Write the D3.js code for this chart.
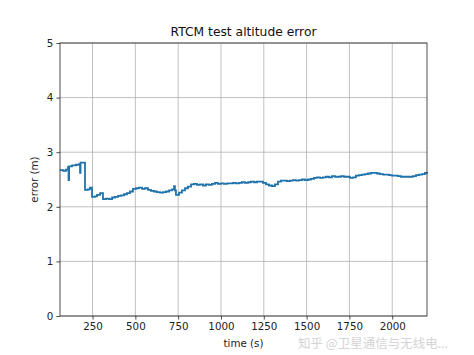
<!DOCTYPE html>
<html>
<head>
<meta charset="utf-8">
<script src="https://cdn.jsdelivr.net/npm/d3@7"></script>
<style>
  html, body { margin: 0; padding: 0; background: #fff; }
  svg { display: block; font-family: "DejaVu Sans", sans-serif; }
</style>
</head>
<body>
<svg id="chart" width="474" height="355"></svg>
<script>
const times = [60,78,95,107,110,113,130,153,171,177,180,200,206,223,235,247,264,276,294,311,329,346,364,381,399,416,434,451,469,486,504,521,539,556,574,591,609,626,644,662,679,697,714,726,731,737,755,772,790,807,825,842,860,877,895,912,930,947,965,982,1000,1017,1035,1052,1070,1087,1105,1122,1140,1158,1175,1193,1210,1228,1245,1263,1280,1298,1315,1333,1350,1368,1385,1403,1420,1438,1455,1473,1490,1508,1525,1543,1560,1578,1595,1613,1631,1648,1666,1683,1701,1718,1736,1753,1771,1788,1806,1823,1841,1858,1876,1893,1911,1928,1946,1963,1981,1998,2016,2034,2051,2069,2086,2104,2121,2139,2156,2174,2191,2203];
const errors = [2.67,2.66,2.68,2.73,2.49,2.74,2.76,2.77,2.78,2.62,2.81,2.81,2.31,2.32,2.35,2.18,2.19,2.22,2.25,2.14,2.15,2.14,2.17,2.18,2.20,2.21,2.23,2.25,2.28,2.33,2.34,2.35,2.33,2.34,2.31,2.29,2.28,2.27,2.26,2.27,2.28,2.30,2.32,2.38,2.30,2.22,2.26,2.30,2.34,2.37,2.41,2.42,2.40,2.41,2.39,2.41,2.40,2.42,2.44,2.42,2.43,2.42,2.43,2.43,2.44,2.43,2.44,2.45,2.44,2.45,2.46,2.45,2.46,2.46,2.44,2.41,2.39,2.38,2.41,2.46,2.48,2.48,2.47,2.48,2.49,2.48,2.49,2.50,2.49,2.50,2.51,2.53,2.54,2.53,2.54,2.55,2.54,2.56,2.55,2.55,2.56,2.55,2.55,2.53,2.54,2.57,2.58,2.59,2.60,2.61,2.62,2.62,2.61,2.60,2.59,2.59,2.58,2.57,2.57,2.56,2.55,2.55,2.55,2.55,2.56,2.58,2.59,2.60,2.62,2.61];
const xTicks = [250,500,750,1000,1250,1500,1750,2000];
const yTicks = [0,1,2,3,4,5];
const titleText = "RTCM test altitude error";
const xLabel = "time (s)";
const yLabel = "error (m)";
const watermark = "知乎 @卫星通信与无线电...";

const svg = d3.select("#chart");
const L = 60, R = 427, T = 43, B = 316;

const x = d3.scaleLinear().domain([60, 2203]).range([L, R]);
const y = d3.scaleLinear().domain([0, 5]).range([B, T]);

// grid
const grid = svg.append("g");
grid.selectAll("line.vx").data(xTicks).enter().append("line")
  .attr("x1", d => x(d)).attr("x2", d => x(d)).attr("y1", T).attr("y2", B)
  .attr("stroke", "#b0b0b0").attr("stroke-width", 0.8);
grid.selectAll("line.hy").data(yTicks).enter().append("line")
  .attr("x1", L).attr("x2", R).attr("y1", d => y(d)).attr("y2", d => y(d))
  .attr("stroke", "#b0b0b0").attr("stroke-width", 0.8);

// line
const data = times.map((t, i) => ({t, v: errors[i]}));
const line = d3.line().x(d => x(d.t)).y(d => y(d.v)).curve(d3.curveStepAfter);
svg.append("path").datum(data)
  .attr("d", line).attr("fill", "none")
  .attr("stroke", "#1f72ac").attr("stroke-width", 1.8)
  .attr("stroke-linejoin", "miter");

// axes
const xAxis = d3.axisBottom(x).tickValues(xTicks).tickSize(3.6).tickPadding(3).tickFormat(d3.format("d"));
const yAxis = d3.axisLeft(y).tickValues(yTicks).tickSize(3.6).tickPadding(3).tickFormat(d3.format("d"));
const gx = svg.append("g").attr("transform", `translate(0,${B})`).call(xAxis);
const gy = svg.append("g").attr("transform", `translate(${L},0)`).call(yAxis);
[gx, gy].forEach(g => {
  g.select(".domain").remove();
  g.selectAll("text").attr("font-family", "DejaVu Sans").attr("font-size", 10.3).attr("fill", "#222");
  g.selectAll(".tick line").attr("stroke", "#222").attr("stroke-width", 0.8);
});

// frame
svg.append("rect").attr("x", L).attr("y", T).attr("width", R - L).attr("height", B - T)
  .attr("fill", "none").attr("stroke", "#222").attr("stroke-width", 0.8);

// title & labels
svg.append("text").attr("x", (L + R) / 2).attr("y", 36).attr("text-anchor", "middle")
  .attr("font-size", 12.3).attr("fill", "#111").text(titleText);
svg.append("text").attr("x", (L + R) / 2).attr("y", 347).attr("text-anchor", "middle")
  .attr("font-size", 10.3).attr("fill", "#222").text(xLabel);
svg.append("text").attr("transform", `translate(38,${(T + B) / 2}) rotate(-90)`).attr("text-anchor", "middle")
  .attr("font-size", 10.3).attr("fill", "#222").text(yLabel);

// watermark
svg.append("text").attr("x", 298).attr("y", 348)
  .attr("font-family", "Noto Sans CJK SC").attr("font-size", 12.5)
  .attr("fill", "#d0d0d0").attr("opacity", 0.9).text(watermark);
</script>
</body>
</html>
